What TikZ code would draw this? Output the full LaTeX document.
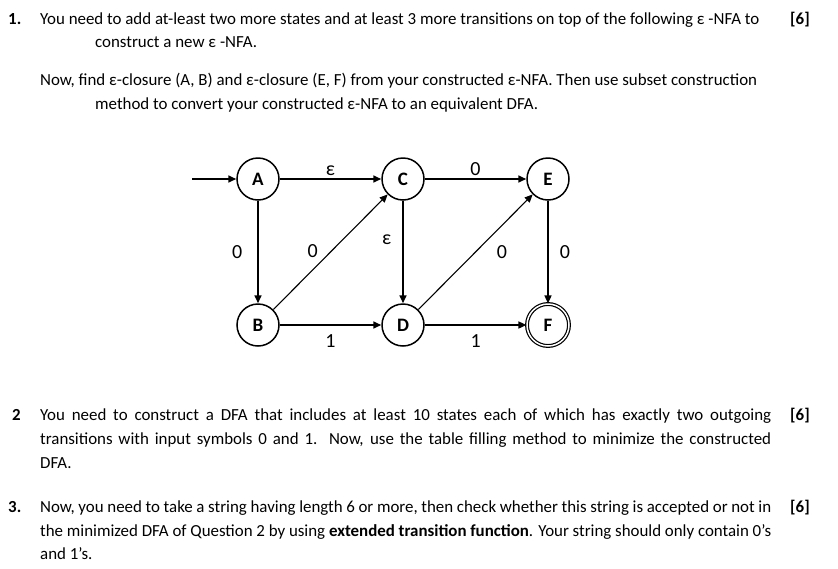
\documentclass[tikz,border=0pt]{standalone}
\usepackage{fontspec}
\setmainfont{Carlito}
\usetikzlibrary{arrows.meta}
\begin{document}
\begin{tikzpicture}[x=1pt,y=-1pt,
  txt/.style={anchor=base west,inner sep=0pt,font=\fontsize{16.9}{20}\selectfont},
  bt/.style={anchor=base west,inner sep=0pt,font=\fontsize{16.9}{20}\selectfont\bfseries},
  st/.style={circle,draw,line width=1.5pt,minimum size=42pt,inner sep=0pt,font=\fontsize{19}{22}\selectfont\bfseries},
  tr/.style={-{Triangle[length=8pt,width=7pt]},line width=1.6pt},
  lb/.style={font=\fontsize{20}{22}\selectfont,inner sep=1pt}]
\useasboundingbox[fill=white] (0,0) rectangle (838,568);
% question 1
\node[bt] (n1) at (8,24) {1.};
\node[txt] (l1) at (40,24) {You need to add at-least two more states and at least 3 more transitions on top of the following ε -NFA to};
\node[bt] (m1) at (790,24) {[6]};
\node[txt] (l2) at (95,47) {construct a new ε -NFA.};
\node[txt] (l3) at (40,85) {Now, find ε-closure (A, B) and ε-closure (E, F) from your constructed ε-NFA. Then use subset construction};
\node[txt] (l4) at (95,109) {method to convert your constructed ε-NFA to an equivalent DFA.};
% automaton
\node[st] (A) at (258,179) {A};
\node[st] (C) at (403,179) {C};
\node[st] (E) at (548,179) {E};
\node[st] (B) at (258,325) {B};
\node[st] (D) at (403,325) {D};
\node[st,double,double distance=1.5pt,line width=1.2pt] (F) at (548,325) {F};
\coordinate (s) at (192,179);
\draw[tr] (s) -- (A);
\draw[tr] (A) -- node[lb,above=2pt]{ε} (C);
\draw[tr] (C) -- node[lb,above=2pt]{0} (E);
\draw[tr] (A) -- node[lb,left=14pt]{0} (B);
\draw[tr] (C) -- node[lb,left=10pt,pos=0.38]{ε} (D);
\draw[tr] (E) -- node[lb,right=10pt]{0} (F);
\draw[tr] (B) -- node[lb,below=8pt]{1} (D);
\draw[tr] (D) -- node[lb,below=8pt]{1} (F);
\draw[tr,line width=1.1pt] (B) -- node[lb,above left=2pt,pos=0.42]{0} (C);
\draw[tr,line width=1.1pt] (D) -- node[lb,below right=6pt,pos=0.62]{0} (E);
% question 2
\node[bt] (n2) at (12,420) {2};
\node[txt] (q21) at (40,420) {\hbox to 731pt{You need to construct a DFA that includes at least 10 states each of which has exactly two outgoing}};
\node[bt] (m2) at (790,420) {[6]};
\node[txt] (q22) at (40,444) {\hbox to 731pt{transitions with input symbols 0 and 1.\ \ Now, use the table filling method to minimize the constructed}};
\node[txt] (q23) at (40,468) {DFA.};
% question 3
\node[bt] (n3) at (8,512) {3.};
\node[txt] (q31) at (40,512) {\hbox to 731pt{Now, you need to take a string having length 6 or more, then check whether this string is accepted or not in}};
\node[bt] (m3) at (790,512) {[6]};
\node[txt] (q32) at (40,536) {\hbox to 731pt{the minimized DFA of Question 2 by using \textbf{extended transition function}. Your string should only contain 0’s}};
\node[txt] (q33) at (40,559) {and 1’s.};
\end{tikzpicture}
\end{document}
